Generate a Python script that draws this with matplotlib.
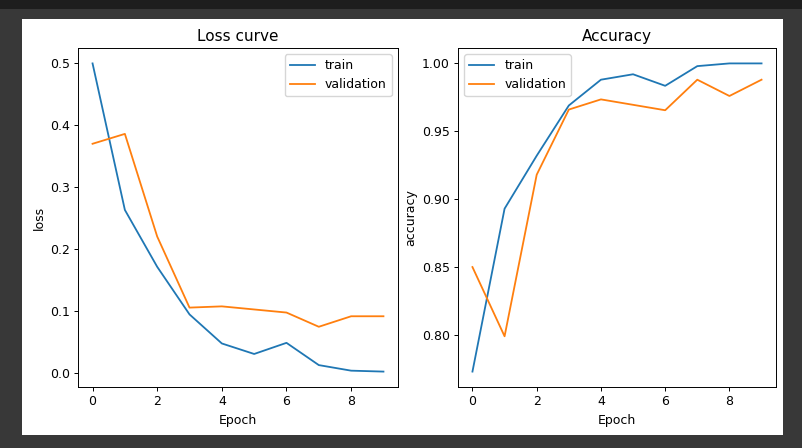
import matplotlib
matplotlib.use('Agg')
import matplotlib.pyplot as plt
from matplotlib.patches import Rectangle

epochs = list(range(10))

loss_train = [0.500, 0.263, 0.171, 0.094, 0.047, 0.030, 0.048, 0.012, 0.003, 0.0015]
loss_val = [0.370, 0.386, 0.220, 0.105, 0.107, 0.102, 0.097, 0.074, 0.091, 0.091]

acc_train = [0.773, 0.893, 0.932, 0.969, 0.988, 0.992, 0.9835, 0.998, 1.000, 1.000]
acc_val = [0.850, 0.799, 0.918, 0.966, 0.9735, 0.9695, 0.9655, 0.988, 0.976, 0.988]

W, H = 803, 448
fig = plt.figure(figsize=(W / 100, H / 100), dpi=100)
fig.patch.set_facecolor('#383838')

# dark strip on top and the white canvas of the notebook output
fig.patches.append(Rectangle((0, 1 - 9 / H), 1, 9 / H, transform=fig.transFigure,
                             facecolor='#1e1e1e', edgecolor='none', zorder=-10))
fig.patches.append(Rectangle((22 / W, 1 - 435 / H), (783 - 22) / W, (435 - 19) / H,
                             transform=fig.transFigure, facecolor='white',
                             edgecolor='none', zorder=-10))


def axes_at(x0, x1, y0, y1):
    # pixel box -> figure fraction
    return fig.add_axes([x0 / W, 1 - y1 / H, (x1 - x0) / W, (y1 - y0) / H])


ax1 = axes_at(78, 398, 48, 387)
ax2 = axes_at(458, 776, 48, 387)

fs = 9.0
for ax in (ax1, ax2):
    ax.tick_params(labelsize=fs, length=3, width=0.7, pad=3)
    for s in ax.spines.values():
        s.set_linewidth(0.7)

ax1.plot(epochs, loss_train, lw=1.3, label='train')
ax1.plot(epochs, loss_val, lw=1.3, label='validation')
ax1.set_title('Loss curve', fontsize=11, pad=5)
ax1.set_xlabel('Epoch', fontsize=fs, labelpad=4)
ax1.set_ylabel('loss', fontsize=fs, labelpad=3)
ax1.set_xticks([0, 2, 4, 6, 8])
ax1.legend(fontsize=fs, loc='upper right', handlelength=2.0, borderpad=0.4)

ax2.plot(epochs, acc_train, lw=1.3, label='train')
ax2.plot(epochs, acc_val, lw=1.3, label='validation')
ax2.set_title('Accuracy', fontsize=11, pad=5)
ax2.set_xlabel('Epoch', fontsize=fs, labelpad=4)
ax2.set_ylabel('accuracy', fontsize=fs, labelpad=3)
ax2.set_xticks([0, 2, 4, 6, 8])
ax2.legend(fontsize=fs, loc='upper left', handlelength=2.0, borderpad=0.4)

fig.savefig('out.png', dpi=100, facecolor=fig.get_facecolor())
